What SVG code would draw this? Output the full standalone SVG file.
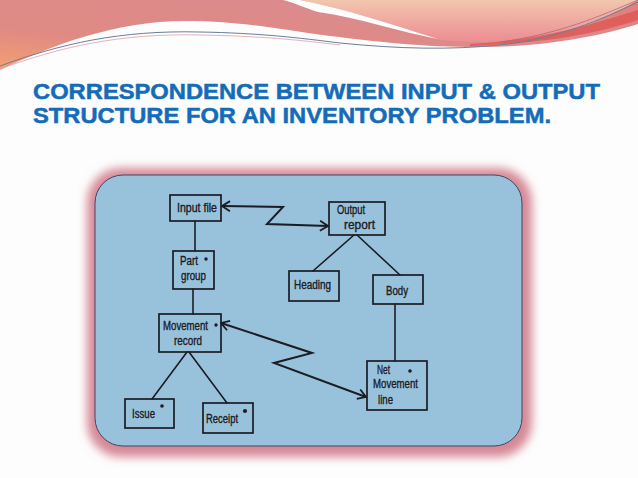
<svg xmlns="http://www.w3.org/2000/svg" width="638" height="478" viewBox="0 0 638 478">
  <defs>
    <linearGradient id="gPink" x1="0" y1="1" x2="1" y2="0">
      <stop offset="0" stop-color="#f4a070"/>
      <stop offset="0.3" stop-color="#df8a84"/>
      <stop offset="0.7" stop-color="#dc8a8c"/>
      <stop offset="1" stop-color="#e47c78"/>
    </linearGradient>
    <linearGradient id="gPeach" x1="0" y1="0" x2="0" y2="1">
      <stop offset="0" stop-color="#f2c6ae"/>
      <stop offset="1" stop-color="#ec8c92"/>
    </linearGradient>
    <filter id="blur" x="-10%" y="-10%" width="120%" height="120%">
      <feGaussianBlur stdDeviation="5"/>
    </filter>
    <marker id="arr" viewBox="0 0 10 12" refX="9" refY="6" markerWidth="10" markerHeight="12" markerUnits="userSpaceOnUse" orient="auto-start-reverse">
      <path d="M1,1 L9,6 L1,11" fill="none" stroke="#1b1b22" stroke-width="1.8"/>
    </marker>
    <style>
      .box { fill: none; stroke: #1c1c24; stroke-width: 1.7; }
      .lbl { font-family: "Liberation Sans Narrow", "Liberation Sans", Arial, sans-serif; font-size: 12px; fill: #1c1c24; stroke: #1c1c24; stroke-width: 0.35; }
      .dot { fill: #1c1c24; }
      .ln { fill: none; stroke: #1c1c24; stroke-width: 1.6; stroke-linecap: round; }
      .zz { fill: none; stroke: #1c1c24; stroke-width: 2; stroke-linejoin: miter; }
      .title { font-family: "Liberation Sans", Arial, sans-serif; font-weight: bold; font-size: 22px; fill: #146cb8; stroke: #146cb8; stroke-width: 0.5; }
    </style>
  </defs>

  <rect width="638" height="478" fill="#fdfdfd"/>

  <!-- header waves -->
  <g id="header">
    <path d="M0,0 L638,0 L638,24 C600,36 545,47 480,47 C420,47 380,42 330,36 C270,28 240,21 185,21 C115,21 50,46 0,70 Z" fill="url(#gPink)"/>
    <path d="M300,0 L638,0 C630,5 610,15 590,24 C560,36 520,42 480,42 C455,42 440,40 430,38 C390,24 350,10 300,0 Z" fill="url(#gPeach)"/>
    <path d="M283,0 L300,0 C350,10 390,24 438,39 C400,32 360,18 318,12 C305,8 295,3 283,0 Z" fill="#fdfdfd"/>
    <path d="M470,44 C540,40 590,25 638,10 L638,20 C600,32 560,42 470,46 Z" fill="#e0504c" opacity="0.7"/>
    <path d="M0,66 C60,44 120,30 200,32 C260,33 300,38 340,43 C400,49 450,50 500,45 C560,38 600,20 638,2" fill="none" stroke="#6c7e98" stroke-width="1"/>
    <path d="M0,69 C60,47 120,33 200,35 C260,36 300,40 340,45" fill="none" stroke="#e0a0a8" stroke-width="0.8"/>
    <path d="M500,42 C560,34 600,16 638,0" fill="none" stroke="#b06878" stroke-width="0.8"/>
  </g>

  <!-- title -->
  <g id="title">
    <text class="title" x="33" y="98.5" textLength="567" lengthAdjust="spacingAndGlyphs">CORRESPONDENCE BETWEEN INPUT &amp; OUTPUT</text>
    <text class="title" x="33" y="123" textLength="518" lengthAdjust="spacingAndGlyphs">STRUCTURE FOR AN INVENTORY PROBLEM.</text>
  </g>

  <!-- panel -->
  <g id="panel">
    <rect x="87" y="168" width="445" height="289" rx="34" fill="#d68896" filter="url(#blur)"/>
    <rect x="95" y="175" width="427" height="271" rx="28" fill="#98c2db" stroke="#3d4866" stroke-width="1"/>
  </g>

  <!-- connectors -->
  <g id="connectors">
    <line class="ln" x1="195" y1="221" x2="195" y2="251"/>
    <line class="ln" x1="193" y1="289" x2="193" y2="314"/>
    <line class="ln" x1="354" y1="235" x2="313" y2="271"/>
    <line class="ln" x1="357" y1="235" x2="400" y2="275"/>
    <line class="ln" x1="395" y1="304" x2="395" y2="361"/>
    <line class="ln" x1="187" y1="352" x2="152" y2="399"/>
    <line class="ln" x1="189" y1="352" x2="227" y2="403"/>
    <polyline class="zz" points="222,206 283,207 267,224 328,226" marker-start="url(#arr)" marker-end="url(#arr)"/>
    <polyline class="zz" points="221,323 312,353 274,363 366,397" marker-start="url(#arr)" marker-end="url(#arr)"/>
  </g>

  <!-- nodes -->
  <g id="node-input-file">
    <rect class="box" x="170" y="195" width="51" height="26"/>
    <text class="lbl" x="177" y="212" textLength="40" lengthAdjust="spacingAndGlyphs">Input file</text>
  </g>
  <g id="node-output-report">
    <rect class="box" x="329" y="202" width="56" height="33"/>
    <text class="lbl" x="337" y="214" textLength="28" lengthAdjust="spacingAndGlyphs">Output</text>
    <text class="lbl" x="344" y="229" textLength="31" lengthAdjust="spacingAndGlyphs">report</text>
  </g>
  <g id="node-part-group">
    <rect class="box" x="173" y="251" width="41" height="38"/>
    <text class="lbl" x="180" y="265" textLength="18" lengthAdjust="spacingAndGlyphs">Part</text>
    <circle class="dot" cx="206" cy="259" r="1.7"/>
    <text class="lbl" x="181" y="280" textLength="25" lengthAdjust="spacingAndGlyphs">group</text>
  </g>
  <g id="node-heading">
    <rect class="box" x="289" y="271" width="50" height="30"/>
    <text class="lbl" x="294" y="289" textLength="37" lengthAdjust="spacingAndGlyphs">Heading</text>
  </g>
  <g id="node-body">
    <rect class="box" x="373" y="275" width="50" height="29"/>
    <text class="lbl" x="386" y="295" textLength="22" lengthAdjust="spacingAndGlyphs">Body</text>
  </g>
  <g id="node-movement-record">
    <rect class="box" x="159" y="314" width="62" height="38"/>
    <text class="lbl" x="163" y="330" textLength="45" lengthAdjust="spacingAndGlyphs">Movement</text>
    <circle class="dot" cx="216" cy="325" r="1.7"/>
    <text class="lbl" x="174" y="345" textLength="28" lengthAdjust="spacingAndGlyphs">record</text>
  </g>
  <g id="node-net-movement-line">
    <rect class="box" x="367" y="361" width="60" height="49"/>
    <text class="lbl" x="377" y="374" textLength="13" lengthAdjust="spacingAndGlyphs">Net</text>
    <circle class="dot" cx="410" cy="371" r="1.8"/>
    <text class="lbl" x="373" y="388" textLength="45" lengthAdjust="spacingAndGlyphs">Movement</text>
    <text class="lbl" x="378" y="404" textLength="15" lengthAdjust="spacingAndGlyphs">line</text>
  </g>
  <g id="node-issue">
    <rect class="box" x="125" y="399" width="49" height="29"/>
    <text class="lbl" x="132" y="418" textLength="23" lengthAdjust="spacingAndGlyphs">Issue</text>
    <circle class="dot" cx="162" cy="406" r="1.8"/>
  </g>
  <g id="node-receipt">
    <rect class="box" x="203" y="403" width="50" height="30"/>
    <text class="lbl" x="206" y="423" textLength="32" lengthAdjust="spacingAndGlyphs">Receipt</text>
    <circle class="dot" cx="245" cy="411" r="2.1"/>
  </g>
</svg>
